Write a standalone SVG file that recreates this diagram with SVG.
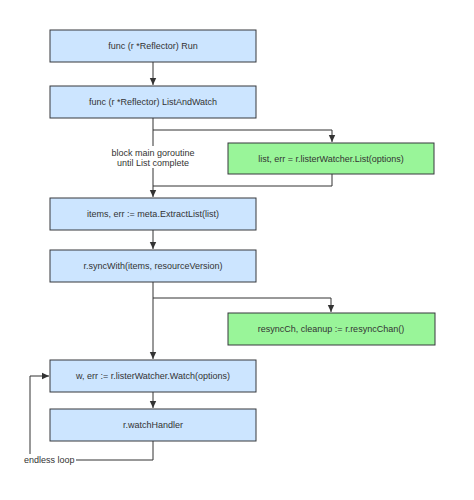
<svg xmlns="http://www.w3.org/2000/svg" width="474" height="500" viewBox="0 0 474 500">
<defs>
<marker id="ah" markerWidth="8" markerHeight="8" refX="7" refY="4" orient="auto" markerUnits="userSpaceOnUse">
<path d="M0,0.8 L7,4 L0,7.2 Z" fill="#333"/>
</marker>
</defs>
<style>
.blue{fill:#cce5ff;stroke:#36393d;stroke-width:1}
.green{fill:#99f599;stroke:#36393d;stroke-width:1}
.t{font-family:"Liberation Sans",Arial,sans-serif;font-size:9px;fill:#333;text-anchor:middle;dominant-baseline:central}
.c{fill:none;stroke:#333;stroke-width:1}
.lbl{font-family:"Liberation Sans",Arial,sans-serif;font-size:9px;fill:#333}
</style>
<rect width="474" height="500" fill="#fff"/>
<g id="connectors">
<path class="c" d="M153,62 V85" marker-end="url(#ah)"/>
<path class="c" d="M153,118 V197" marker-end="url(#ah)"/>
<path class="c" d="M153,130 H332 V142" marker-end="url(#ah)"/>
<path class="c" d="M332,174 V186 H153"/>
<path class="c" d="M153,230 V249" marker-end="url(#ah)"/>
<path class="c" d="M153,282 V359" marker-end="url(#ah)"/>
<path class="c" d="M153,298 H331 V312" marker-end="url(#ah)"/>
<path class="c" d="M153,392 V408" marker-end="url(#ah)"/>
<path class="c" d="M153,441 V460 H76"/>
<path class="c" d="M30,454 V376 H49" marker-end="url(#ah)"/>
<rect x="104" y="146" width="98" height="22" fill="#fff"/>
<text class="lbl" x="153" y="156" text-anchor="middle">block main goroutine</text>
<text class="lbl" x="153" y="166" text-anchor="middle">until List complete</text>
<text class="lbl" x="24" y="463">endless loop</text>
</g>
<g id="n1"><rect class="blue" x="50" y="30" width="206" height="32"/><text class="t" x="153" y="46">func (r *Reflector) Run</text></g>
<g id="n2"><rect class="blue" x="50" y="86" width="206" height="32"/><text class="t" x="153" y="102">func (r *Reflector) ListAndWatch</text></g>
<g id="n3"><rect class="green" x="228" y="143" width="206" height="31"/><text class="t" x="331" y="158.5">list, err = r.listerWatcher.List(options)</text></g>
<g id="n4"><rect class="blue" x="50" y="198" width="206" height="32"/><text class="t" x="153" y="214">items, err := meta.ExtractList(list)</text></g>
<g id="n5"><rect class="blue" x="50" y="250" width="206" height="32"/><text class="t" x="153" y="266">r.syncWith(items, resourceVersion)</text></g>
<g id="n6"><rect class="green" x="228" y="313" width="207" height="32"/><text class="t" x="331" y="329">resyncCh, cleanup := r.resyncChan()</text></g>
<g id="n7"><rect class="blue" x="50" y="360" width="206" height="32"/><text class="t" x="153" y="376">w, err := r.listerWatcher.Watch(options)</text></g>
<g id="n8"><rect class="blue" x="50" y="409" width="206" height="32"/><text class="t" x="153" y="425">r.watchHandler</text></g>
</svg>
